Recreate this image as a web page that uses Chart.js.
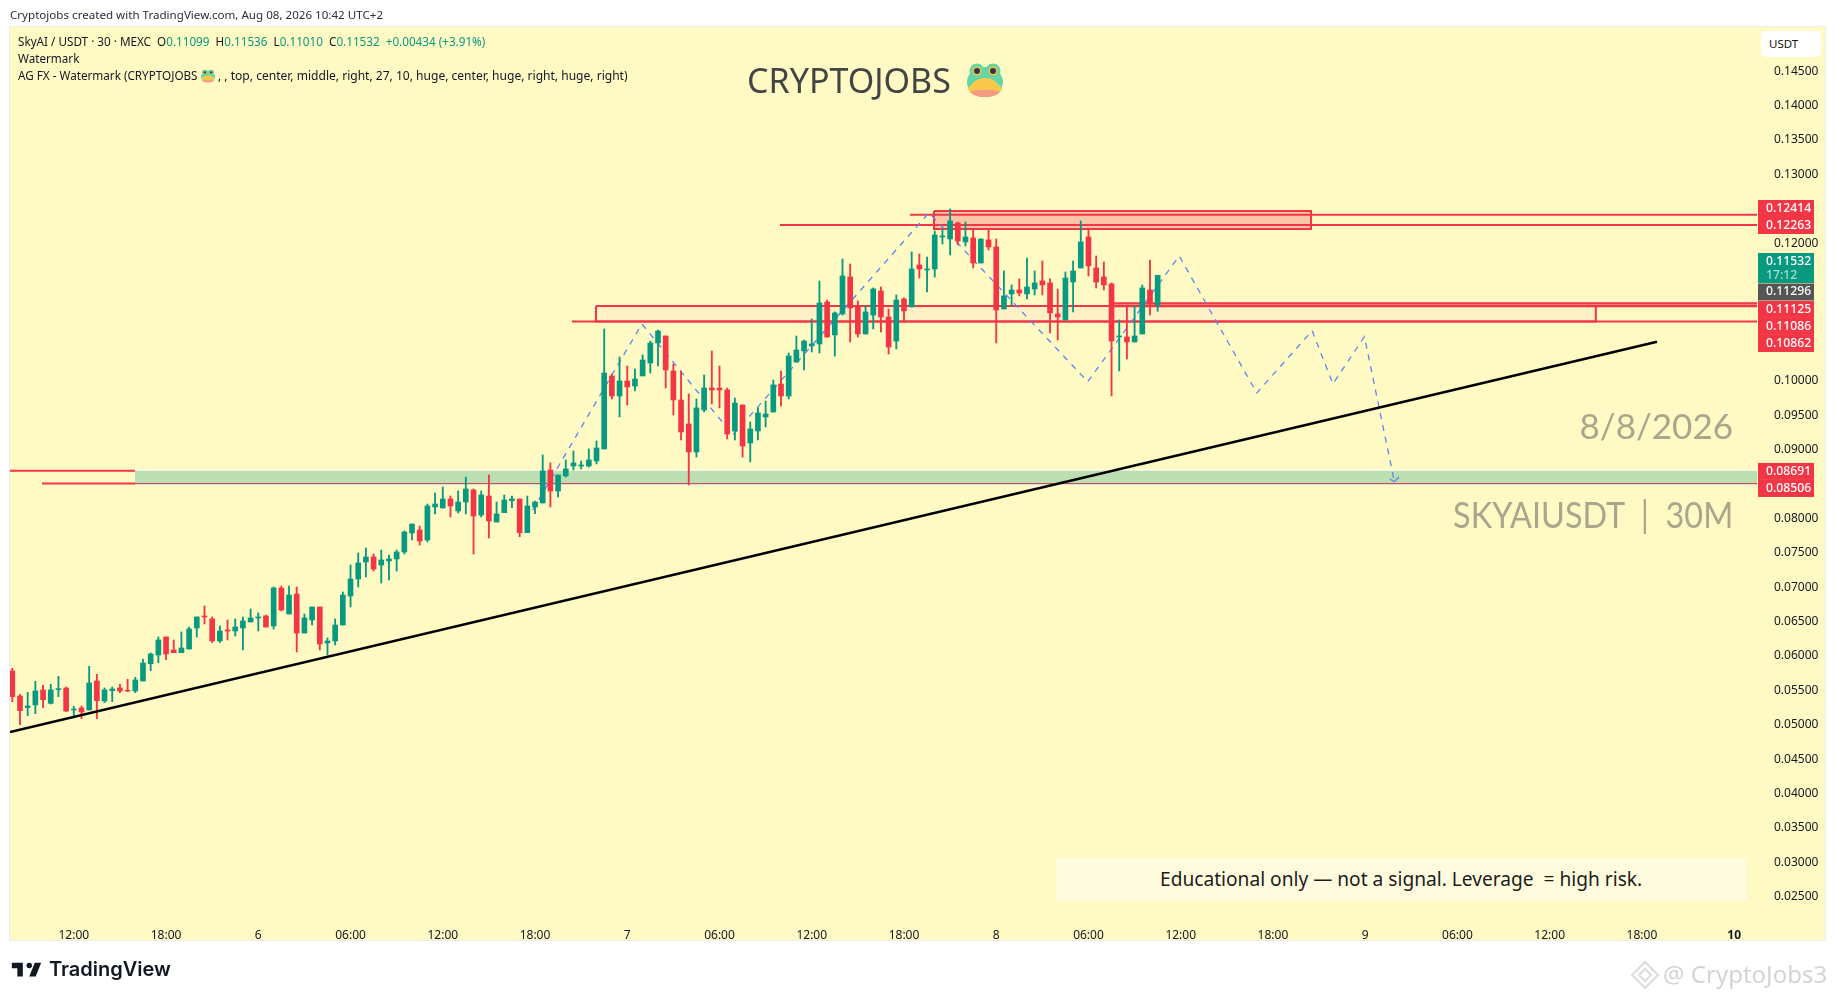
<!DOCTYPE html>
<html>
<head>
<meta charset="utf-8">
<title>SKYAIUSDT 30M</title>
<script src="https://cdn.jsdelivr.net/npm/chart.js@4"></script>
<style>
  html,body{margin:0;padding:0;background:#fff;width:1835px;height:1000px;overflow:hidden}
  #wrap{position:relative;width:1835px;height:1000px;font-family:"Noto Sans",sans-serif;color:#131722}
  #chart{position:absolute;left:0;top:0}
  .t{position:absolute;white-space:pre;line-height:1;transform:translateY(-50%)}
  .up{color:#089981}
  svg{position:absolute}
</style>
</head>
<body>
<div id="wrap">
  <canvas id="chart" width="1835" height="1000"></canvas>

  <div class="t" style="left:10px;top:15px;font-size:11.6px;color:#2a2e39">Cryptojobs created with TradingView.com, Aug 08, 2026 10:42 UTC+2</div>
  <div class="t" style="left:18px;top:42px;font-size:11.7px">SkyAI / USDT · 30 · MEXC  O<span class="up">0.11099</span>  H<span class="up">0.11536</span>  L<span class="up">0.11010</span>  C<span class="up">0.11532</span>  <span class="up">+0.00434 (+3.91%)</span></div>
  <div class="t" style="left:18px;top:59px;font-size:11.7px">Watermark</div>
  <div class="t" style="left:18px;top:76px;font-size:11.7px">AG FX - Watermark (CRYPTOJOBS</div>
  <svg style="left:201px;top:69px" width="14" height="14" viewBox="0 0 36 34"><use href="#frog"/></svg>
  <div class="t" style="left:218px;top:76px;font-size:12.05px">, , top, center, middle, right, 27, 10, huge, center, huge, right, huge, right)</div>

  <div class="t" style="left:747px;top:80px;font-size:34px;color:#444">CRYPTOJOBS</div>
  <svg style="left:967px;top:63px" width="36" height="34" viewBox="0 0 36 34">
    <symbol id="frog" viewBox="0 0 36 34">
      <circle cx="10" cy="8" r="7.5" fill="#62d6a8"/><circle cx="26" cy="8" r="7.5" fill="#62d6a8"/>
      <ellipse cx="18" cy="19" rx="18" ry="15" fill="#62d6a8"/>
      <path d="M1 26C6 18 12 15 18 15S30 18 35 26C33 31 26 34 18 34S3 31 1 26Z" fill="#f9c84a"/>
      <path d="M3 29C10 26 26 26 33 29C30 32 25 34 18 34S6 32 3 29Z" fill="#f59a82"/>
      <circle cx="10" cy="8" r="4.6" fill="#f2c53d"/><circle cx="26" cy="8" r="4.6" fill="#f2c53d"/>
      <circle cx="10" cy="8" r="3" fill="#3b3350"/><circle cx="26" cy="8" r="3" fill="#3b3350"/>
    </symbol>
    <use href="#frog"/>
  </svg>

  <div class="t" style="right:102px;top:425px;font-size:35px;font-family:Lato,sans-serif;color:#a9a68c">8/8/2026</div>
  <div class="t" style="right:102px;top:514px;font-size:36px;font-family:Lato,sans-serif;color:#a9a68c;transform:translateY(-50%) scaleX(.9);transform-origin:right center">SKYAIUSDT  |  30M</div>

  <div style="position:absolute;left:1056px;top:858px;width:691px;height:43px;background:#fffbde"></div>
  <div class="t" style="left:1160px;top:880px;font-size:19.15px;color:#1c1c1c">Educational only — not a signal. Leverage  = high risk.</div>

  <div style="position:absolute;left:1761px;top:31px;width:60px;height:26px;background:#fff;border-radius:5px"></div>
  <div class="t" style="left:1769px;top:44px;font-size:11.5px">USDT</div>

  <svg style="left:10px;top:959px" width="33" height="22" viewBox="0 0 36 24"><path d="M14 4H2v6h6v9h6V4zm14 15h-7l6-15h7l-6 15zm-7-9a3 3 0 1 0 0-6 3 3 0 0 0 0 6z" fill="#131722"/></svg>
  <div class="t" style="left:49px;top:969px;font-size:20px;font-family:Inter,sans-serif;font-weight:600;color:#131722">TradingView</div>

  <svg style="left:1630px;top:960px" width="30" height="30" viewBox="0 0 30 30" fill="none" stroke="#dcdcdc" stroke-width="2"><path d="M15 2L28 15L15 28L2 15Z"/><path d="M15 9L21 15L15 21L9 15Z"/></svg>
  <div class="t" style="left:1663px;top:974px;font-size:24px;color:#d4d4d4">@ CryptoJobs3</div>
</div>

<script>
// ohlc, one value per 30m bar
const opens = [.05782,.05418,.05249,.05288,.05506,.05312,.05510,.05535,.05215,.05244,
  .05215,.05636,.05346,.05496,.05535,.05501,.05491,.05636,.05888,.06014,
  .06276,.06087,.06048,.06101,.06407,.06581,.06538,.06218,.06378,.06363,
  .06407,.06494,.06552,.06581,.06436,.06988,.06610,.06901,.06334,.06523,
  .06712,.06189,.06218,.06450,.06872,.07119,.07366,.07439,.07322,.07381,
  .07410,.07511,.07788,.07831,.07686,.08165,.08151,.08282,.08107,.08238,
  .08413,.08049,.08325,.07947,.08083,.08258,.08281,.07792,.08165,.08224,
  .08703,.08398,.08616,.08761,.08761,.08761,.08834,.09009,.10070,.09779,
  .09997,.09924,.10070,.10259,.10549,.10651,.10142,.09721,.09372,.08965,
  .09575,.09895,.09895,.09866,.09270,.09648,.09096,.09270,.09474,.09546,
  .09953,.09779,.10273,.10433,.10506,.10535,.11145,.10666,.10971,.11509,
  .11087,.10680,.10956,.11305,.10927,.10578,.11189,.11073,.11683,.11611,
  .11625,.12090,.12061,.12294,.12018,.12076,.11712,.12047,.11945,.11044,
  .11262,.11320,.11262,.11334,.11451,.11422,.10971,.10884,.11436,.11640,
  .12090,.11640,.11509,.11407,.10637,.10637,.10564,.10680,.11320,.11099];
const highs = [.05820,.05443,.05472,.05632,.05573,.05588,.05704,.05549,.05268,.05273,
  .05850,.05733,.05535,.05549,.05588,.05661,.05690,.05956,.06044,.06276,
  .06276,.06232,.06349,.06421,.06567,.06727,.06567,.06436,.06523,.06538,
  .06567,.06683,.06625,.06596,.07003,.07017,.07017,.07003,.06610,.06712,
  .06712,.06262,.06538,.06930,.07322,.07497,.07570,.07482,.07540,.07468,
  .07540,.07817,.07918,.07889,.08209,.08369,.08456,.08325,.08398,.08601,
  .08427,.08398,.08631,.08238,.08340,.08325,.08281,.08325,.08252,.08921,
  .08805,.08631,.08849,.08979,.08834,.09009,.09125,.10753,.10099,.10346,
  .10215,.10171,.10375,.10578,.10738,.10651,.10244,.10142,.09808,.09735,
  .10084,.10433,.10215,.09895,.09750,.09648,.09401,.09605,.09706,.10011,
  .10142,.10404,.10651,.10593,.10898,.11450,.11174,.11000,.11770,.11697,
  .11160,.11087,.11349,.11363,.11043,.11247,.11204,.11872,.11843,.11799,
  .12177,.12206,.12497,.12308,.12308,.12192,.12061,.12206,.12061,.11596,
  .11393,.11480,.11785,.11596,.11741,.11480,.11334,.11581,.11741,.12323,
  .12206,.11814,.11727,.11422,.10884,.11087,.11087,.11393,.11756,.11536];
const lows = [.05336,.05002,.05133,.05162,.05249,.05302,.05409,.05191,.05099,.05089,
  .05215,.05089,.05321,.05336,.05467,.05481,.05467,.05636,.05787,.05903,
  .05946,.06048,.06048,.06101,.06276,.06465,.06194,.06194,.06232,.06290,
  .06087,.06494,.06363,.06421,.06392,.06654,.06610,.06058,.06334,.06450,
  .06087,.06014,.06160,.06450,.06712,.07003,.07148,.07235,.07061,.07104,
  .07235,.07482,.07686,.07613,.07657,.08064,.08151,.08020,.08078,.08064,
  .07482,.08020,.07715,.07947,.08083,.08155,.07734,.07792,.08068,.08224,
  .08166,.08311,.08602,.08703,.08718,.08747,.08790,.09009,.09735,.09474,
  .09648,.09852,.10070,.10113,.10215,.09895,.09503,.09139,.08485,.08892,
  .09546,.09663,.09605,.09154,.09139,.08892,.08820,.09139,.09328,.09546,
  .09634,.09735,.10273,.10157,.10418,.10404,.10636,.10360,.10956,.10564,
  .10636,.10680,.10753,.10709,.10389,.10462,.10855,.11073,.11494,.11291,
  .11509,.11988,.11829,.11974,.11959,.11640,.11712,.11901,.10550,.11044,
  .11087,.11233,.11189,.11247,.11247,.10695,.10593,.10884,.11000,.11640,
  .11523,.11349,.11320,.09779,.10143,.10317,.10564,.10680,.10956,.11010];
const closes = [.05409,.05205,.05273,.05491,.05365,.05506,.05525,.05200,.05229,.05186,
  .05607,.05350,.05506,.05520,.05491,.05491,.05651,.05898,.06029,.06232,
  .06029,.06048,.06116,.06392,.06567,.06567,.06218,.06363,.06363,.06421,
  .06509,.06552,.06567,.06421,.06988,.06668,.06886,.06334,.06552,.06712,
  .06174,.06218,.06450,.06886,.07119,.07352,.07439,.07264,.07395,.07410,
  .07511,.07802,.07918,.07671,.08180,.08209,.08282,.08180,.08238,.08427,
  .08035,.08340,.07962,.08064,.08267,.08282,.07792,.08180,.08238,.08689,
  .08398,.08631,.08718,.08805,.08776,.08849,.09023,.10113,.09779,.09997,
  .09910,.10026,.10302,.10549,.10724,.10157,.09721,.09256,.08965,.09605,
  .09895,.09866,.09866,.09227,.09677,.09052,.09299,.09532,.09517,.09939,
  .09779,.10360,.10447,.10578,.10535,.11131,.10636,.10985,.11523,.11058,
  .10680,.11000,.11334,.10927,.10491,.11174,.11015,.11625,.11625,.11625,
  .12119,.12105,.12323,.12032,.12090,.11712,.12061,.11945,.11029,.11233,
  .11320,.11276,.11363,.11422,.11393,.10986,.10927,.11494,.11596,.12018,
  .11669,.11436,.11393,.10579,.10651,.10564,.10651,.11349,.11116,.11532];

// axes
const xMin = -0.3, xMax = 226.97;
const xTicks = [8,20,32,44,56,68,80,92,104,116,128,140,152,164,176,188,200,212,224];
const xTickLabels = ['12:00','18:00','6','06:00','12:00','18:00','7','06:00','12:00','18:00','8','06:00','12:00','18:00','9','06:00','12:00','18:00','10'];
const yMin = 0.02235, yMax = 0.15142;
const yTicks = [.145,.14,.135,.13,.12,.10,.095,.09,.08,.075,.07,.065,.06,.055,.05,.045,.04,.035,.03,.025];

// price tags on the right scale
const tagValues = [.12414,.12263,.11532,.11296,.11125,.11086,.10862,.08691,.08506];
const tagColors = ['#f23645','#f23645','#089981','#555555','#f23645','#f23645','#f23645','#f23645','#f23645'];
const tagShift  = [-6.2,.4,-7.4,.4,6.1,20.4,22,.6,4.9];

// drawings
const trendX = [-0.3,213.96], trendY = [.04895,.10568];
const pathX = [67.7,81.9,93.75,119.25,139.9,151.8,161.9,169.1,171.8,175.9,179.8];
const pathY = [.0812,.10826,.09212,.12443,.09987,.11814,.09823,.10728,.09954,.10641,.08533];
const arrowX = [179.2,179.8,180.4], arrowY = [.08573,.08533,.08602];
const bandX = [15.96,xMax], bandTop = .08691, bandBottom = .08506;
const boxAX = [119.9,168.95], boxATop = .12468, boxABottom = .12207;
const boxBX = [75.93,206.0], boxBTop = .11086, boxBBottom = .10862;

const GREEN = '#089981', RED = '#f23645';
const candleColors = closes.map((c,i) => c >= opens[i] ? GREEN : RED);

function line(xs, ys, color, width, order, extra){
  return Object.assign({
    type:'line', data:xs.map((x,i)=>({x, y:ys[i]})),
    borderColor:color, borderWidth:width, pointRadius:0, tension:0, fill:false, order
  }, extra||{});
}
function hline(x0, x1, y, color, width, order){ return line([x0,x1],[y,y],color,width,order); }
function strip(xs, top, bottom, color, order){
  return line(xs,[top,top],'transparent',0,order,{fill:{target:{value:bottom}},backgroundColor:color});
}
function outline(xs, top, bottom, color, width, order){
  return line([xs[0],xs[1],xs[1],xs[0],xs[0]],[top,top,bottom,bottom,top],color,width,order);
}

const datasets = [
  line(trendX,trendY,'#000000',2.6,0),
  {type:'bar',data:opens.map((o,i)=>({x:i,y:[o,closes[i]]})),backgroundColor:candleColors,barThickness:5,grouped:false,order:1},
  {type:'bar',data:lows.map((l,i)=>({x:i,y:[l,highs[i]]})),backgroundColor:candleColors,barThickness:1.2,grouped:false,order:2},
  line(pathX,pathY,'#5b86f0',1.3,3,{borderDash:[6,6]}),
  line(arrowX,arrowY,'#5b86f0',1.3,3),
  hline(xMin,15.96,.08691,RED,2,4),
  hline(3.86,15.96,.08506,RED,2,4),
  hline(116.8,xMax,.12414,RED,2,4),
  hline(99.87,xMax,.12263,RED,2,4),
  hline(143.2,xMax,.11125,RED,2.4,4),
  hline(143.2,xMax,.11086,RED,2.4,4),
  hline(72.8,xMax,.10862,RED,2,4),
  outline(boxAX,boxATop,boxABottom,RED,2,5),
  outline(boxBX,boxBTop,boxBBottom,RED,2,5),
  strip(boxAX,boxATop,boxABottom,'#fcc5a5',6),
  strip(boxBX,boxBTop,boxBBottom,'#fff0c6',6),
  hline(bandX[0],bandX[1],bandBottom,'#c0565c',1.2,6),
  strip(bandX,bandTop,bandBottom,'#bcdfb2',7),
  outline(bandX,bandTop+.00012,bandBottom-.00016,'#fffdf0',1.6,8)
];

const panelPlugin = {
  id:'panel',
  beforeDraw(chart){
    const c = chart.ctx;
    c.save();
    c.fillStyle = '#fff9c4';
    c.fillRect(10,27,1815,913);
    c.strokeStyle = '#ededed';
    c.strokeRect(9.5,26.5,1816,914);
    c.restore();
  },
  afterDraw(chart){
    const c = chart.ctx, y = chart.scales.y;
    c.save();
    c.font = '500 12.2px "Noto Sans"';
    c.textBaseline = 'middle';
    tagValues.forEach((v,i)=>{
      const mid = y.getPixelForValue(v) + tagShift[i];
      const isLast = v === .11532;
      const h = isLast ? 30 : 17;
      c.fillStyle = tagColors[i];
      c.fillRect(1758, mid-h/2, 56, h);
      c.fillStyle = '#fff';
      c.fillText(v.toFixed(5), 1766, isLast ? mid-6.5 : mid);
      if(isLast){
        c.fillStyle = '#a5dccb';
        c.fillText('17:12', 1766, mid+7.5);
      }
    });
    c.restore();
  }
};

new Chart(document.getElementById('chart'), {
  type:'bar',
  data:{datasets},
  options:{
    responsive:false, animation:false, events:[],
    layout:{padding:{left:10,top:27,right:10,bottom:60}},
    plugins:{legend:{display:false},tooltip:{enabled:false}},
    scales:{
      x:{
        type:'linear', min:xMin, max:xMax, offset:false,
        grid:{display:false}, border:{display:false},
        afterBuildTicks:s=>{ s.ticks = xTicks.map(v=>({value:v})); },
        afterFit:s=>{ s.height = 25; },
        ticks:{
          autoSkip:false, maxRotation:0, padding:5, color:'#131722',
          font:ctx=>({family:'"Noto Sans"',size:12,weight:ctx.tick && ctx.tick.value===224 ? 'bold':'normal'}),
          callback:(v,i)=>xTickLabels[i]
        }
      },
      y:{
        type:'linear', position:'right', min:yMin, max:yMax,
        grid:{display:false}, border:{display:false},
        afterBuildTicks:s=>{ s.ticks = yTicks.map(v=>({value:v})); },
        afterFit:s=>{ s.width = 68; },
        ticks:{
          autoSkip:false, padding:9, color:'#131722',
          font:{family:'"Noto Sans"',size:12},
          callback:v=>v.toFixed(5)
        }
      }
    }
  },
  plugins:[panelPlugin]
});
</script>
</body>
</html>
